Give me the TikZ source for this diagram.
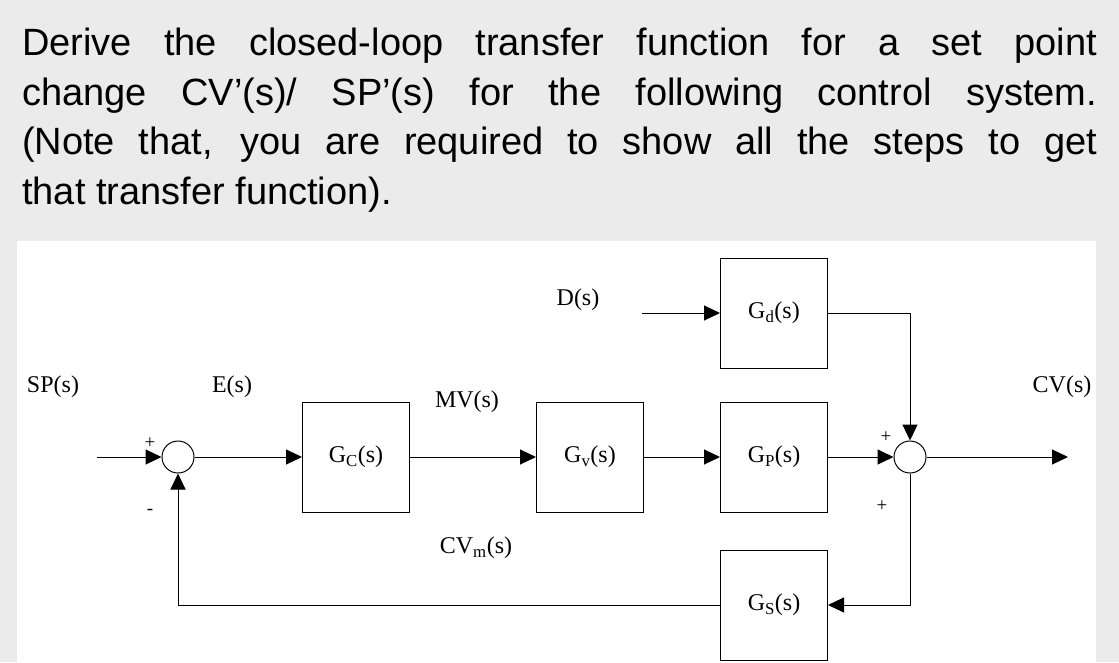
\documentclass[tikz,border=0pt]{standalone}
\usepackage{fontspec}
\setmainfont{Liberation Serif}
\newfontfamily\titlefont{Liberation Sans}
\usetikzlibrary{arrows.meta}
\definecolor{bg}{HTML}{EBEBEB}
\begin{document}
\begin{tikzpicture}[x=1pt,y=-1pt,
  blk/.style={draw,line width=1pt,minimum width=107pt,minimum height=110pt,font=\fontsize{24}{28}\selectfont},
  sumj/.style={draw,circle,line width=1pt,minimum size=32pt,inner sep=0pt},
  lbl/.style={font=\fontsize{24}{28}\selectfont},
  sg/.style={font=\fontsize{19}{22}\selectfont},
  sig/.style={line width=1pt,-{Triangle[length=16pt,width=15pt]}},
  ln/.style={line width=1pt}]
\fill[bg] (0,0) rectangle (1119,662);
\fill[white] (17,241) rectangle (1096,662);
\useasboundingbox (0,0) rectangle (1119,662);
\node[anchor=north west,text width=1075pt,align=justify,inner sep=0pt,
  font=\titlefont\fontsize{38}{49.5}\selectfont] (title) at (22,28)
  {Derive the closed-loop transfer function for a set point\linebreak change CV’(s)/ SP’(s) for the following control system.\linebreak (Note that, you are required to show all the steps to get\linebreak that transfer function).};
\node[sumj] (s1) at (178,457) {};
\node[sumj] (s2) at (910,457) {};
\node[blk] (gc) at (356,457) {G$_{\mathrm{C}}$(s)};
\node[blk] (gv) at (590,457) {G$_{\mathrm{v}}$(s)};
\node[blk] (gp) at (774,457) {G$_{\mathrm{P}}$(s)};
\node[blk] (gd) at (774,313) {G$_{\mathrm{d}}$(s)};
\node[blk] (gs) at (774,605) {G$_{\mathrm{S}}$(s)};
\coordinate (in) at (97,457);
\coordinate (out) at (1068,457);
\coordinate (din) at (642,313);
\node[lbl] (sp) at (53,387) {SP(s)};
\node[lbl] (e) at (232,387) {E(s)};
\node[lbl] (mv) at (467,402) {MV(s)};
\node[lbl] (cvm) at (476,548) {CV$_{\mathrm{m}}$(s)};
\node[lbl] (cv) at (1062,387) {CV(s)};
\node[lbl] (d) at (578,300) {D(s)};
\node[sg] (p1) at (150,443) {+};
\node[sg] (m1) at (150,512) {-};
\node[sg] (p2) at (886,437) {+};
\node[sg] (p3) at (882,506) {+};
\draw[sig] (in) -- (s1.west);
\draw[sig] (s1.east) -- (gc.west);
\draw[sig] (gc.east) -- (gv.west);
\draw[sig] (gv.east) -- (gp.west);
\draw[sig] (gp.east) -- (s2.west);
\draw[sig] (s2.east) -- (out);
\draw[sig] (din) -- (gd.west);
\draw[sig] (gd.east) -| (s2.north);
\draw[sig] (s2.south) |- (gs.east);
\draw[sig] (gs.west) -| (s1.south);
\end{tikzpicture}
\end{document}
